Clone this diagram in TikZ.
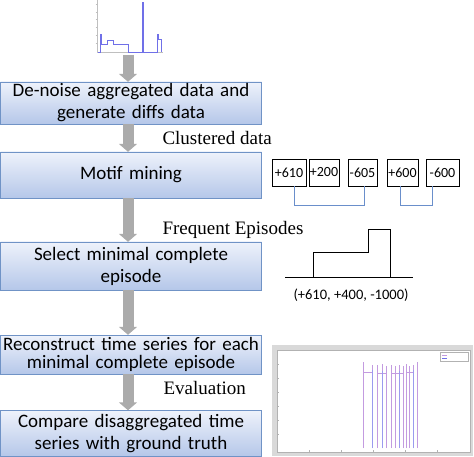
\documentclass[tikz,border=0pt]{standalone}
\usepackage{fontspec}
\setmainfont{Carlito}
\newfontfamily\seriffont{Liberation Serif}
\usepackage{tikz}
\tikzset{>=latex}
\usetikzlibrary{arrows.meta}
\definecolor{boxtop}{HTML}{EEF2FB}
\definecolor{boxbottom}{HTML}{B5C7E9}
\definecolor{boxline}{HTML}{7093C6}
\definecolor{linkblue}{HTML}{6A8FCB}
\definecolor{flowgray}{HTML}{ABABAB}
\definecolor{tracepurple}{HTML}{C39BE0}
\definecolor{traceblue}{HTML}{7070E8}

\begin{document}
\begin{tikzpicture}[x=1pt, y=-1pt,
    procbox/.style={draw=boxline, top color=boxtop, bottom color=boxbottom, minimum width=261pt,
        text width=258pt, align=center, inner sep=0pt, font=\fontsize{19}{22}\selectfont},
    evbox/.style={draw, line width=0.7pt, minimum height=27pt, inner sep=0pt, font=\fontsize{14}{16}\selectfont},
    flow/.style={flowgray, line width=11pt, -{Triangle[width=18pt, length=8pt]}},
    link/.style={linkblue, line width=0.8pt},
    steplabel/.style={anchor=west, font=\seriffont\fontsize{19}{22}\selectfont}]
    \useasboundingbox (0,0) rectangle (474,457);
    % aggregated input trace
    \draw[gray!50, line width=0.4pt] (97,0) -- (97,52) -- (163,52);
    \foreach \y in {4,12,19,27,35,43} {
        \draw[gray!50, line width=0.4pt] (95.5,\y) -- (97,\y);
    }
    \draw[traceblue, line width=0.4pt] (98,52) -- (100,52) -- (100,34) -- (101,34) -- (101,44) -- (107,44)
        -- (107,40) -- (113,40) -- (113,44) -- (128,44) -- (128,52) -- (142,52) -- (142,2) -- (142.7,2)
        -- (142.7,52) -- (157,52) -- (157,34) -- (158,34) -- (158,39) -- (161,39) -- (161,52);
    \coordinate (plotfoot) at (128,55);
    % processing steps
    \node[procbox, minimum height=42pt] (denoise) at (131,103) {De-noise aggregated data and\\generate diffs data};
    \node[procbox, minimum height=46pt] (motif) at (131,175) {Motif mining};
    \node[procbox, minimum height=48pt] (select) at (131,266) {Select minimal complete\\episode};
    \node[procbox, minimum height=39pt, font=\fontsize{19}{18.5}\selectfont] (rebuild) at (131,354.5) {Reconstruct time series for each\\minimal complete episode};
    \node[procbox, minimum height=46pt] (compare) at (131,433.5) {Compare disaggregated time\\series with ground truth};
    \draw[flow] (plotfoot) -- (plotfoot |- denoise.north);
    \draw[flow] (denoise.south -| plotfoot) -- (motif.north -| plotfoot);
    \draw[flow] (motif.south -| plotfoot) -- (select.north -| plotfoot);
    \draw[flow] (select.south -| plotfoot) -- (rebuild.north -| plotfoot);
    \draw[flow] (rebuild.south -| plotfoot) -- (compare.north -| plotfoot);
    \node[steplabel] (clustered) at (159,138) {Clustered data};
    \node[steplabel] (frequent) at (159,230) {Frequent Episodes};
    \node[steplabel] (evaluation) at (160,388) {Evaluation};
    % clustered events
    \foreach \name/\val/\x/\w in {ev1/+610/289/34, ev2/+200/324/30, ev3/-605/362.5/29, ev4/+600/402.5/31, ev5/-600/442.5/33} {
        \node[evbox, minimum width=\w pt] (\name) at (\x,172.5) {\val};
    }
    \draw[link] ([xshift=5pt]ev1.south) -- ++(0,19) -| ([xshift=2pt]ev3.south);
    \draw[link] ([xshift=-2pt]ev4.south) -- ++(0,19) -| ([xshift=-10pt]ev5.south);
    % minimal complete episode
    \draw[line width=0.8pt] (285,277) -- (413,277);
    \draw[line width=0.8pt] (313,277) |- (368,252) |- (390,229) -- (390,277);
    \node[font=\fontsize{14.5}{16}\selectfont] (episode) at (351,295) {(+610, +400, -1000)};
    % reconstructed series
    \fill[gray!30] (272,345) rectangle (473,456);
    \draw[gray!60, fill=white, line width=0.4pt] (277,350) rectangle (470,452);
    \foreach \y in {364,378,392,406,420,434} {
        \draw[gray!60, line width=0.3pt] (277,\y) -- (279,\y);
    }
    \foreach \x in {309,341,373,405,437} {
        \draw[gray!60, line width=0.3pt] (\x,452) -- (\x,450);
    }
    \draw[gray!60, fill=white, line width=0.3pt] (440,352) rectangle (468,361);
    \draw[tracepurple, line width=0.3pt] (442,355) -- (447,355);
    \draw[traceblue, line width=0.3pt] (442,358) -- (447,358);
    \foreach \x/\t in {363/362, 372/365, 377/365, 382/364, 386/366, 391/365, 395/366, 399/365, 403/366, 406/364, 409/366, 413/365, 417/362} {
        \draw[tracepurple, line width=0.5pt] (\x,448) -- (\x,\t);
    }
    \draw[tracepurple, line width=0.5pt] (363,372) -- (372,372) (377,373) -- (386,373) (391,373) -- (403,373) (406,372) -- (413,372);
    \draw[traceblue!70, line width=0.4pt] (372,448) -- (372,370) (382,448) -- (382,371) (399,448) -- (399,371) (413,448) -- (413,370);
\end{tikzpicture}
\end{document}
